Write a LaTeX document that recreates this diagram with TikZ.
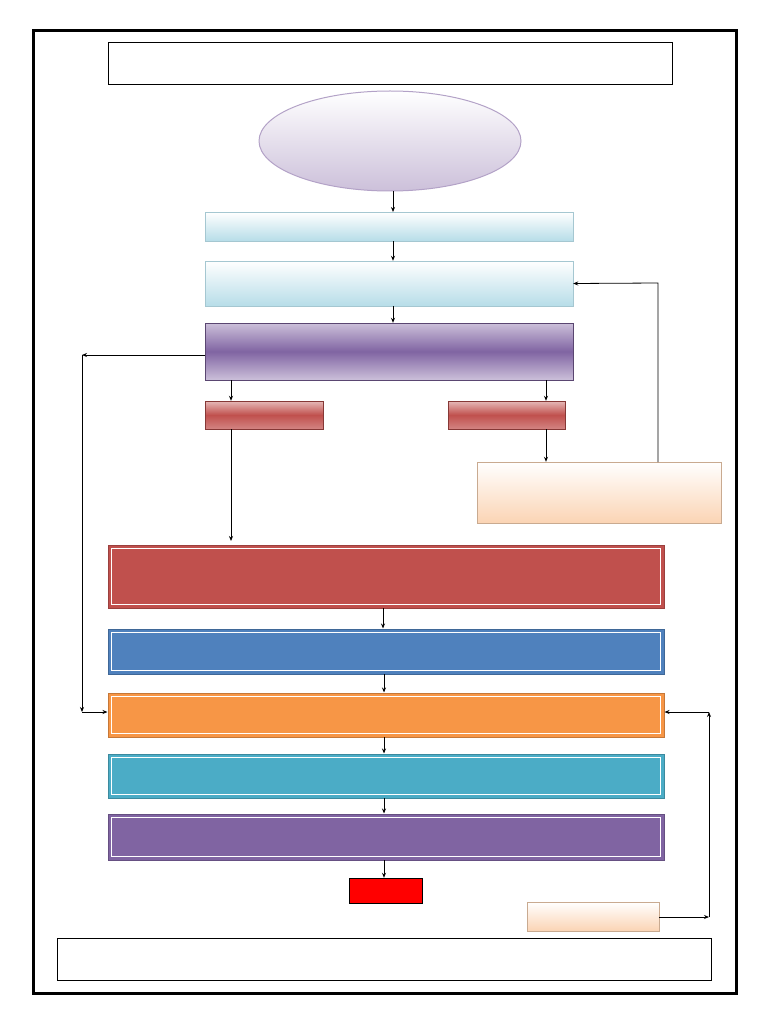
\documentclass[tikz,border=0pt]{standalone}
\usetikzlibrary{arrows.meta,shapes.geometric}
\begin{document}
\begin{tikzpicture}[x=1pt,y=-1pt,
 arr/.style={-{Stealth[length=5pt,width=4pt]},line width=0.8pt},
 dbl/.style={draw=white,line width=1.2pt},
 lt/.style={draw=#1!80!black,line width=1pt}]
\useasboundingbox (0,0) rectangle (768,1024);
\definecolor{cR}{HTML}{C0504D}\definecolor{cB}{HTML}{4F81BD}\definecolor{cO}{HTML}{F79646}
\definecolor{cT}{HTML}{4BACC6}\definecolor{cP}{HTML}{8064A2}\definecolor{cC}{HTML}{B7DDE8}
\definecolor{cPe}{HTML}{FBD4B4}\definecolor{cL}{HTML}{CCC0DA}
\draw[line width=3pt] (33,31) rectangle (736,993);
\draw[line width=2pt] (736,765) -- (736,858);
\node[draw,minimum width=564pt,minimum height=42pt,inner sep=0] (title) at (390,63) {};
\node[draw=cP!60,line width=1pt,ellipse,minimum width=262pt,minimum height=100pt,top color=white,bottom color=cL,inner sep=0] (ell) at (390,141) {};
\node[draw=cC!90!black,top color=white,bottom color=cC,minimum width=368pt,minimum height=29pt,inner sep=0] (b1) at (389,226.5) {};
\node[draw=cC!90!black,top color=white,bottom color=cC,minimum width=368pt,minimum height=45pt,inner sep=0] (b2) at (389,283.5) {};
\node[draw=cP!70!black,top color=cL,bottom color=cL,middle color=cP,minimum width=368pt,minimum height=57pt,inner sep=0] (b3) at (389,351.5) {};
\node[draw=cR!70!black,top color=cR!40,bottom color=cR!70,middle color=cR,minimum width=118pt,minimum height=28pt,inner sep=0] (r1) at (264,415) {};
\node[draw=cR!70!black,top color=cR!40,bottom color=cR!70,middle color=cR,minimum width=117pt,minimum height=28pt,inner sep=0] (r2) at (506.5,415) {};
\node[draw=cPe!80!black,top color=white,bottom color=cPe,minimum width=244pt,minimum height=61pt,inner sep=0] (pe) at (599,492.5) {};
\node[lt=cR,fill=cR,minimum width=556pt,minimum height=63pt,inner sep=0] (c1) at (386,576.5) {};
\node[lt=cB,fill=cB,minimum width=556pt,minimum height=45pt,inner sep=0] (c2) at (386,651.5) {};
\node[lt=cO,fill=cO,minimum width=556pt,minimum height=44pt,inner sep=0] (c3) at (386,715) {};
\node[lt=cT,fill=cT,minimum width=556pt,minimum height=44pt,inner sep=0] (c4) at (386,776) {};
\node[lt=cP,fill=cP,minimum width=556pt,minimum height=46pt,inner sep=0] (c5) at (386,837) {};
\foreach \n in {c1,c2,c3,c4,c5}{\draw[dbl] ([shift={(4,4)}]\n.north west) rectangle ([shift={(-4,-4)}]\n.south east);}
\node[draw,fill=red,minimum width=73pt,minimum height=25pt,inner sep=0] (rs) at (385.5,890.5) {};
\node[draw=cPe!80!black,top color=white,bottom color=cPe,minimum width=132pt,minimum height=29pt,inner sep=0] (ps) at (593,916.5) {};
\node[draw,minimum width=654pt,minimum height=42pt,inner sep=0] (bot) at (384,959) {};
\draw[arr] (ell.south -| 393,0) -- (393,212);
\draw[arr] (393,241) -- (b2.north -| 393,0);
\draw[arr] (393,306) -- (b3.north -| 393,0);
\draw[arr] (231,380) -- (r1.north -| 231,0);
\draw[arr] (546,380) -- (r2.north -| 546,0);
\draw[arr] (546,429) -- (pe.north -| 546,0);
\draw[arr] (658,462) -- (658,283) -- (b2.east);
\draw[arr] (231,429) -- (231,541);
\coordinate (L1) at (82,355); \coordinate (L2) at (82,712);
\draw[arr] (b3.west |- L1) -- (L1);
\draw[arr] (L1) -- (L2);
\draw[arr] (L2) -- (c3.west |- L2);
\draw[arr] (383,608) -- (c2.north -| 383,0);
\draw[arr] (384,674) -- (c3.north -| 384,0);
\draw[arr] (384,737) -- (c4.north -| 384,0);
\draw[arr] (384,798) -- (c5.north -| 384,0);
\draw[arr] (384,860) -- (rs.north -| 384,0);
\coordinate (R1) at (709,917); \coordinate (R2) at (709,712);
\draw[arr] (ps.east |- R1) -- (R1);
\draw[arr] (R1) -- (R2);
\draw[arr] (R2) -- (c3.east |- R2);
\end{tikzpicture}
\end{document}
